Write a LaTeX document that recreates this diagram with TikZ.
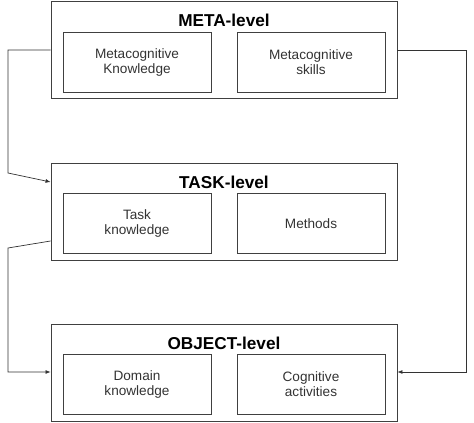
\documentclass[tikz,border=0pt]{standalone}
\usepackage{fontspec}
\setmainfont{Liberation Sans}
\usetikzlibrary{arrows.meta}
\begin{document}
\begin{tikzpicture}[x=1pt,y=-1pt,
  outer/.style={draw=black!75,line width=0.9pt,minimum width=346pt,minimum height=97pt,inner sep=0pt},
  inner/.style={draw=black!75,line width=0.8pt,minimum width=148pt,minimum height=60pt,align=center,font=\fontsize{13.6}{15}\selectfont,text=black!80,inner sep=0pt},
  title/.style={font=\fontsize{17.2}{19}\selectfont\bfseries,inner sep=0pt},
  conn/.style={draw=black!80,line width=0.7pt},
  arr/.style={conn,-{Latex[length=5pt,width=4pt]}}]
\useasboundingbox (0,0) rectangle (474,423);
% outer boxes
\node[outer] (meta) at (224,49.5) {};
\node[outer] (task) at (224,211.5) {};
\node[outer] (obj) at (224,372.5) {};
% titles
\node[title] (metat) at (224,20) {META-level};
\node[title] (taskt) at (224,182) {TASK-level};
\node[title] (objt) at (224,343) {OBJECT-level};
% inner boxes
\node[inner] (mk) at (137,62) {Metacognitive\\Knowledge};
\node[inner] (ms) at (311,62) {Metacognitive\\skills};
\node[inner] (tk) at (137,223.5) {Task\\knowledge};
\node[inner] (tm) at (311,223.5) {Methods};
\node[inner] (dk) at (137,384.5) {Domain\\knowledge};
\node[inner] (ca) at (311,384.5) {Cognitive\\activities};
% connectors
\coordinate (a1) at (8,50);
\coordinate (a2) at (8,173);
\draw[arr] (meta.west |- a1) -- (a1) -- (a2) -- (task.west |- 0,182);
\coordinate (b1) at (8,248);
\coordinate (b2) at (8,372);
\draw[arr] (task.west |- 0,241) -- (b1) -- (b2) -- (obj.west |- b2);
\coordinate (c1) at (466,50);
\coordinate (c2) at (466,372);
\draw[arr] (meta.east |- c1) -- (c1) -- (c2) -- (obj.east |- c2);
\end{tikzpicture}
\end{document}
